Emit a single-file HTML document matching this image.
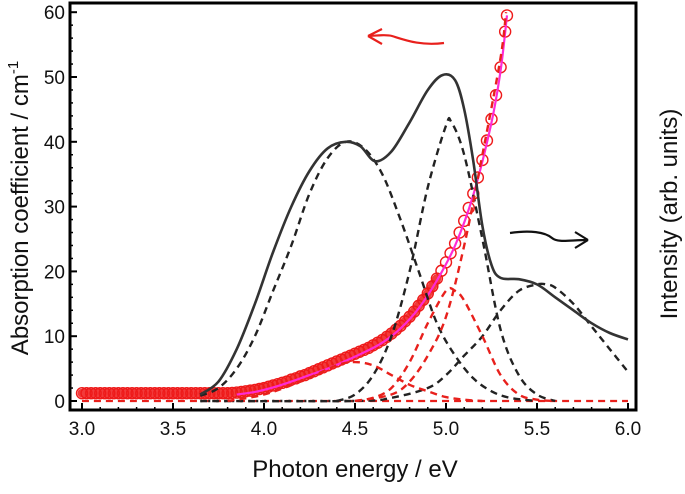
<!DOCTYPE html>
<html><head><meta charset="utf-8"><style>
html,body{margin:0;padding:0;background:#fff;}
svg text{font-family:"Liberation Sans",Arial,sans-serif;}
</style></head><body>
<svg id="chart" width="685" height="489" viewBox="0 0 685 489" xmlns="http://www.w3.org/2000/svg">
<g id="marks"></g>
<g id="axes"></g>
<text x="355" y="477" font-size="24" text-anchor="middle" fill="#111">Photon energy / eV</text>
<text transform="translate(28,208) rotate(-90)" font-size="24" text-anchor="middle" fill="#111">Absorption coefficient  / cm<tspan font-size="15" dy="-10">-1</tspan></text>
<text transform="translate(677,214) rotate(-90)" font-size="24" text-anchor="middle" fill="#111">Intensity (arb. units)</text>
<g><path d="M444,43 C420,46 405,40 392,36 C385,34 375,36 368,36 M368,36 L382,29 M368,36 L382,44" fill="none" stroke="#e8201c" stroke-width="2.2"/></g>
<g><path d="M510,233 C530,230 545,232 552,238 C558,243 570,240 588,240 M588,240 L575,232 M588,240 L575,248" fill="none" stroke="#111" stroke-width="2.2"/></g>
</svg>
<script>
const xTicks=[3.0,3.5,4.0,4.5,5.0,5.5,6.0];
const yTicks=[0,10,20,30,40,50,60];
const totalSpectrum=[[3.65,1],[3.75,3],[3.85,8],[3.95,15],[4.05,23],[4.15,30],[4.25,35.5],[4.35,39],[4.45,40],[4.53,39.3],[4.61,37],[4.7,38.5],[4.8,43],[4.9,48],[4.98,50.3],[5.05,49.5],[5.1,45],[5.15,37],[5.2,27],[5.25,21],[5.3,19],[5.4,18.8],[5.5,18],[5.6,16],[5.7,14],[5.8,12],[5.9,10.5],[6.0,9.5]];
const peak1=[[3.65,0.8],[3.75,2],[3.85,5],[3.95,10],[4.05,17],[4.15,24],[4.25,32],[4.35,37.5],[4.45,40],[4.55,39],[4.65,35],[4.75,28],[4.85,20],[4.95,12],[5.05,7],[5.15,3.5],[5.25,1.5],[5.35,0.5],[5.5,0]];
const peak2=[[4.4,0],[4.5,1],[4.6,4],[4.7,10],[4.8,20],[4.9,33],[5.0,42.5],[5.03,43],[5.1,38],[5.2,25],[5.3,11],[5.4,4],[5.5,1],[5.6,0]];
const peak3=[[3.65,0],[4.5,0],[4.7,0.5],[4.9,2],[5.0,4],[5.1,7],[5.2,10],[5.3,14],[5.4,17],[5.5,18],[5.55,18],[5.6,17.5],[5.7,15],[5.8,11.5],[5.9,8],[6.0,4.5]];
const absBand1=[[3.8,0],[4.0,1],[4.2,3],[4.4,5.5],[4.5,6],[4.6,5.5],[4.7,4],[4.8,2.5],[4.9,1.5],[5.0,0.6],[5.1,0.2],[5.2,0]];
const absBand2=[[4.5,0],[4.6,0.5],[4.7,2],[4.8,6],[4.9,12],[5.0,17],[5.05,17],[5.1,15.5],[5.2,10],[5.3,4],[5.4,1],[5.5,0.2],[5.6,0]];
const absEdge=[[4.5,0],[4.7,1],[4.8,3],[4.9,7],[5.0,13],[5.1,24],[5.2,38],[5.3,53],[5.33,60]];
const absBaseline=[[3.0,0],[6.0,0]];
const absData=[[3.0,1.2],[3.025,1.2],[3.05,1.2],[3.075,1.2],[3.1,1.2],[3.125,1.2],[3.15,1.2],[3.175,1.2],[3.2,1.2],[3.225,1.2],[3.25,1.2],[3.275,1.2],[3.3,1.2],[3.325,1.2],[3.35,1.2],[3.375,1.2],[3.4,1.2],[3.425,1.2],[3.45,1.2],[3.475,1.2],[3.5,1.2],[3.525,1.2],[3.55,1.2],[3.575,1.2],[3.6,1.2],[3.625,1.2],[3.65,1.2],[3.675,1.2],[3.7,1.2],[3.725,1.2],[3.75,1.2],[3.775,1.2],[3.8,1.2],[3.825,1.25],[3.85,1.3],[3.875,1.4],[3.9,1.5],[3.925,1.6],[3.95,1.7],[3.975,1.85],[4.0,2.0],[4.025,2.2],[4.05,2.4],[4.075,2.6],[4.1,2.8],[4.125,3.0],[4.15,3.3],[4.175,3.5],[4.2,3.8],[4.225,4.0],[4.25,4.3],[4.275,4.6],[4.3,4.9],[4.325,5.2],[4.35,5.5],[4.375,5.8],[4.4,6.1],[4.425,6.4],[4.45,6.7],[4.475,7.0],[4.5,7.3],[4.525,7.6],[4.55,7.9],[4.575,8.2],[4.6,8.6],[4.625,9.0],[4.65,9.4],[4.675,9.9],[4.7,10.4],[4.725,11.0],[4.75,11.6],[4.775,12.3],[4.8,13.0],[4.825,13.8],[4.85,14.7],[4.875,15.6],[4.9,16.6],[4.925,17.7],[4.95,18.9],[4.975,20.1],[5.0,21.4],[5.025,22.8],[5.05,24.3],[5.075,26],[5.1,27.8],[5.125,29.8],[5.15,32],[5.175,34.5],[5.2,37.2],[5.225,40.2],[5.25,43.5],[5.275,47.2],[5.3,51.5],[5.325,57],[5.335,59.5]];
const absFit=[[3.85,1.0],[3.95,1.4],[4.05,2.1],[4.15,3.0],[4.25,4.0],[4.35,5.0],[4.45,6.2],[4.55,7.5],[4.65,9.0],[4.75,11.2],[4.85,14.3],[4.95,18.6],[5.05,24],[5.15,31.8],[5.25,43],[5.3,51],[5.335,59.5]];
const dottedBaseline=[[3.65,0],[4.5,0]];

const NS="http://www.w3.org/2000/svg";
const X0=70,X1=636,Y0=3,Y1=410;
function sx(v){return 82+(v-3.0)*182;}
function sy(v){return 401-v*6.48;}
const marks=document.getElementById('marks'),axes=document.getElementById('axes');
function mk(tag,attrs,parent){const e=document.createElementNS(NS,tag);for(const k in attrs)e.setAttribute(k,attrs[k]);parent.appendChild(e);return e;}
function smoothPath(pts){
  const p=pts.map(d=>[sx(d[0]),sy(d[1])]);
  let s='M'+p[0][0].toFixed(1)+','+p[0][1].toFixed(1);
  for(let i=0;i<p.length-1;i++){
    const a=p[i-1]||p[i],b=p[i],c=p[i+1],d=p[i+2]||c;
    const c1=[b[0]+(c[0]-a[0])/6,b[1]+(c[1]-a[1])/6],c2=[c[0]-(d[0]-b[0])/6,c[1]-(d[1]-b[1])/6];
    s+=' C'+c1[0].toFixed(1)+','+c1[1].toFixed(1)+' '+c2[0].toFixed(1)+','+c2[1].toFixed(1)+' '+c[0].toFixed(1)+','+c[1].toFixed(1);
  }
  return s;
}
const cp=mk('clipPath',{id:'clip'},marks);
mk('rect',{x:X0,y:Y0,width:X1-X0,height:Y1-Y0},cp);
const g=mk('g',{'clip-path':'url(#clip)'},marks);

let e;
e=mk('path',{d:smoothPath(absBaseline),fill:'none',stroke:'#e8201c','stroke-width':2.2,'stroke-dasharray':'7,5'},g);


e=mk('path',{d:smoothPath(dottedBaseline),fill:'none',stroke:'#222','stroke-width':2.5,'stroke-dasharray':'2,6'},g);


e=mk('path',{d:smoothPath(absData.filter(d=>d[1]<20)),fill:'none',stroke:'#f01818','stroke-width':9,'stroke-linecap':'round','stroke-opacity':0.85},g);


e=mk('g',{},g);


absData.forEach(d=>{const c=mk('circle',{cx:sx(d[0]),cy:sy(d[1]),r:5.5,fill:'none',stroke:'#ee1a1a','stroke-width':1.4},e);

});
const series=[
 [absFit,'#ff2ad4','none',2.2,'absorption-fit'],
 [peak1,'#222','7,5',2.4,'emission-peak-1'],
 [peak2,'#222','7,5',2.4,'emission-peak-2'],
 [peak3,'#222','7,5',2.4,'emission-peak-3'],
 [absBand1,'#e8201c','7,5',2.4,'absorption-band-1'],
 [absBand2,'#e8201c','7,5',2.4,'absorption-band-2'],
 [absEdge,'#e8201c','7,5',2.4,'absorption-edge'],
 [totalSpectrum,'#333','none',2.6,'emission-spectrum']
];
series.forEach(s=>{e=mk('path',{d:smoothPath(s[0]),fill:'none',stroke:s[1],'stroke-width':s[3],'stroke-dasharray':s[2]},g);

});

e=mk('rect',{x:X0,y:Y0,width:X1-X0,height:Y1-Y0,fill:'none',stroke:'#000','stroke-width':3},axes);


xTicks.forEach(v=>{mk('line',{x1:sx(v),x2:sx(v),y1:Y1,y2:Y1-7,stroke:'#000','stroke-width':2},axes);
 const t=mk('text',{x:sx(v),y:435,'font-size':19,'text-anchor':'middle',fill:'#111'},axes);t.textContent=v.toFixed(1);
 
 });
for(let v=3.1;v<6.0;v+=0.1){mk('line',{x1:sx(v),x2:sx(v),y1:Y1,y2:Y1-3,stroke:'#000','stroke-width':1.5},axes);}
yTicks.forEach(v=>{mk('line',{x1:X0,x2:X0+7,y1:sy(v),y2:sy(v),stroke:'#000','stroke-width':2},axes);
 const t=mk('text',{x:65,y:sy(v)+7,'font-size':19,'text-anchor':'end',fill:'#111'},axes);t.textContent=v;
 
 });
for(let v=2;v<60;v+=2){if(v%10)mk('line',{x1:X0,x2:X0+3,y1:sy(v),y2:sy(v),stroke:'#000','stroke-width':1.5},axes);}
</script>
</body></html>
